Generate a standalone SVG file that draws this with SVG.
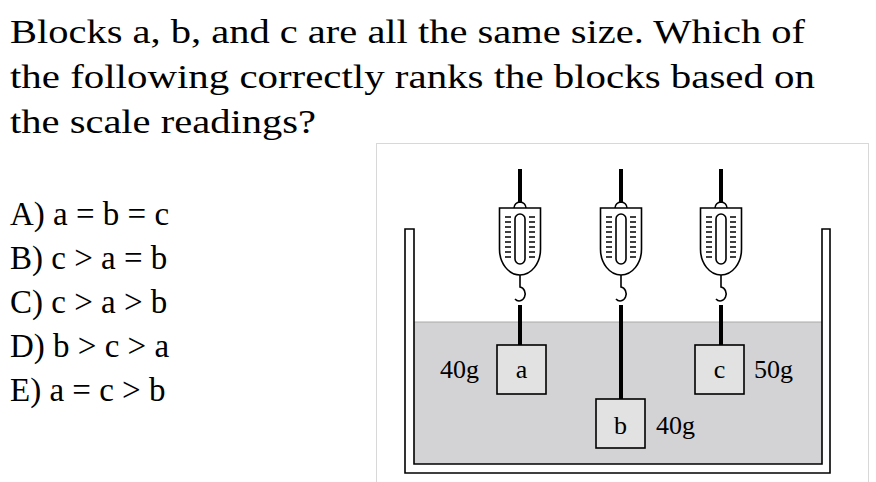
<svg xmlns="http://www.w3.org/2000/svg" width="876" height="482" viewBox="0 0 876 482">
<defs>
<style>
.t{font-family:"Liberation Serif","DejaVu Serif",serif;font-size:33px;fill:#000}
.l{font-family:"Liberation Serif","DejaVu Serif",serif;font-size:26px;fill:#000}
.ln{stroke:#000;stroke-width:1.6;fill:none}
.rod{stroke:#000;stroke-width:4;fill:none}
.blk{fill:#e2e2e2;stroke:#000;stroke-width:1.6}
</style>
<g id="scale">
<line class="rod" x1="0" y1="0" x2="0" y2="34"/>
<path class="ln" d="M-6,39 A6,6 0 0 1 6,39" fill="#fff"/>
<path class="ln" d="M-20.5,39 H20.5 V80 A20.5,26 0 0 1 -20.5,80 Z" fill="#fff"/>
<rect class="ln" x="-5" y="45" width="10" height="50" rx="5"/>
<path stroke="#000" stroke-width="1.3" d="M-15,48h6M9,48h6M-15,53h6M9,53h6M-15,58h6M9,58h6M-15,63h6M9,63h6M-15,68h6M9,68h6M-15,73h6M9,73h6M-15,78h6M9,78h6M-15,83h6M9,83h6M-15,88h6M9,88h6"/>
<path class="ln" d="M0,106 V118 A6,7 0 1 1 -5,130"/>
</g>
</defs>
<rect x="0" y="0" width="876" height="482" fill="#fff"/>
<g id="question">
<text class="t" x="10" y="43" textLength="795" lengthAdjust="spacingAndGlyphs">Blocks a, b, and c are all the same size.  Which of</text>
<text class="t" x="10" y="88" textLength="805" lengthAdjust="spacingAndGlyphs">the following correctly ranks the blocks based on</text>
<text class="t" x="10" y="133" textLength="306" lengthAdjust="spacingAndGlyphs">the scale readings?</text>
</g>
<g id="options">
<text class="t" x="10" y="225">A)  a = b = c</text>
<text class="t" x="10" y="269">B)  c &gt; a = b</text>
<text class="t" x="10" y="313">C)  c &gt; a &gt; b</text>
<text class="t" x="10" y="357">D)  b &gt; c &gt; a</text>
<text class="t" x="10" y="401">E)  a = c &gt; b</text>
</g>
<rect x="376.5" y="143.5" width="492" height="340" fill="#fff" stroke="#d8d8d8"/>
<g id="tank">
<rect x="414" y="322" width="408" height="142" fill="#d3d3d5"/>
<line x1="414" y1="322" x2="822" y2="322" stroke="#aaa" stroke-width="1"/>
<path class="ln" d="M405,229 V473 H830 V229 H822 V464 H414 V229 Z"/>
</g>
<g id="connectors">
<line class="rod" x1="520" y1="305" x2="520" y2="345"/>
<line class="rod" x1="621" y1="305" x2="621" y2="399"/>
<line class="rod" x1="721" y1="305" x2="721" y2="345"/>
</g>
<g id="scale-a"><use href="#scale" x="520" y="169"/></g>
<g id="scale-b"><use href="#scale" x="621" y="169"/></g>
<g id="scale-c"><use href="#scale" x="721" y="169"/></g>
<g id="block-a">
<rect class="blk" x="497" y="345" width="49" height="49"/>
<text class="l" x="521.5" y="378" text-anchor="middle">a</text>
<text class="l" x="440" y="378">40g</text>
</g>
<g id="block-b">
<rect class="blk" x="596" y="399" width="49" height="49"/>
<text class="l" x="620.5" y="434" text-anchor="middle">b</text>
<text class="l" x="656" y="434">40g</text>
</g>
<g id="block-c">
<rect class="blk" x="695" y="345" width="49" height="49"/>
<text class="l" x="719.5" y="378" text-anchor="middle">c</text>
<text class="l" x="754" y="378">50g</text>
</g>
</svg>
